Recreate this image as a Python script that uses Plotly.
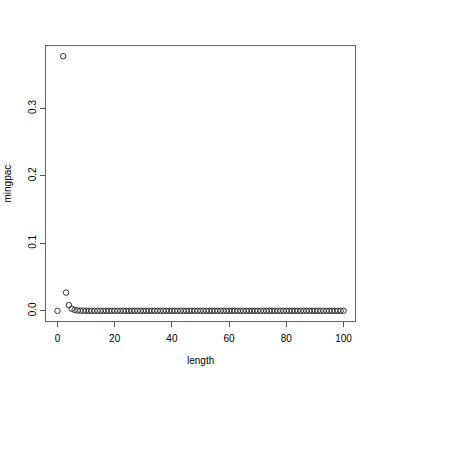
import plotly.graph_objects as go

# length values (no point at 1)
length = [0] + list(range(2, 101))

# mingpac values
mingpac = [
    0.0, 0.3775, 0.027, 0.0085, 0.003, 0.0012, 0.0005, 0.0003, 0.0002, 0.0001,
    0.0001, 0.0, 0.0, 0.0, 0.0, 0.0, 0.0, 0.0, 0.0, 0.0,
    0.0, 0.0, 0.0, 0.0, 0.0, 0.0, 0.0, 0.0, 0.0, 0.0,
    0.0, 0.0, 0.0, 0.0, 0.0, 0.0, 0.0, 0.0, 0.0, 0.0,
    0.0, 0.0, 0.0, 0.0, 0.0, 0.0, 0.0, 0.0, 0.0, 0.0,
    0.0, 0.0, 0.0, 0.0, 0.0, 0.0, 0.0, 0.0, 0.0, 0.0,
    0.0, 0.0, 0.0, 0.0, 0.0, 0.0, 0.0, 0.0, 0.0, 0.0,
    0.0, 0.0, 0.0, 0.0, 0.0, 0.0, 0.0, 0.0, 0.0, 0.0,
    0.0, 0.0, 0.0, 0.0, 0.0, 0.0, 0.0, 0.0, 0.0, 0.0,
    0.0, 0.0, 0.0, 0.0, 0.0, 0.0, 0.0, 0.0, 0.0, 0.0,
]

x_ticks = [0, 20, 40, 60, 80, 100]
y_ticks = [0.0, 0.1, 0.2, 0.3]
y_tick_text = ["0.0", "0.1", "0.2", "0.3"]

fig = go.Figure()
fig.add_trace(go.Scatter(
    x=length, y=mingpac,
    mode="markers",
    marker=dict(symbol="circle-open", size=5.5, color="#222222",
                line=dict(width=0.9, color="#222222")),
    showlegend=False,
))

axis_font = dict(family="Liberation Sans, Arial, sans-serif", size=10, color="black")

fig.update_layout(
    width=474, height=473,
    autosize=False,
    margin=dict(l=46, r=119, t=46, b=152),
    paper_bgcolor="white",
    plot_bgcolor="white",
    font=axis_font,
)

fig.update_xaxes(
    range=[-4, 104],
    tickvals=x_ticks,
    ticks="outside", ticklen=5, tickcolor="#555555",
    showline=True, linecolor="#666666", linewidth=1, mirror=True,
    showgrid=False, zeroline=False,
    automargin=False,
    ticklabelstandoff=3,
)
fig.update_yaxes(
    range=[-0.0151, 0.3926],
    tickvals=y_ticks, ticktext=y_tick_text,
    tickangle=-90,
    ticks="outside", ticklen=5, tickcolor="#555555",
    showline=True, linecolor="#666666", linewidth=1, mirror=True,
    showgrid=False, zeroline=False,
    automargin=False,
    ticklabelstandoff=0,
)

# axis titles placed like R's mtext lines
fig.add_annotation(text="length", xref="paper", yref="paper",
                   x=0.5, y=-0.145, xanchor="center", yanchor="middle",
                   showarrow=False, font=axis_font)
fig.add_annotation(text="mingpac", xref="paper", yref="paper",
                   x=-0.123, y=0.5, xanchor="center", yanchor="middle",
                   textangle=-90, showarrow=False, font=axis_font)

# drop the default body margin so the figure starts at the window corner
fig.write_html("out.html", config={"displayModeBar": False},
               post_script="document.body.style.margin='0';")
